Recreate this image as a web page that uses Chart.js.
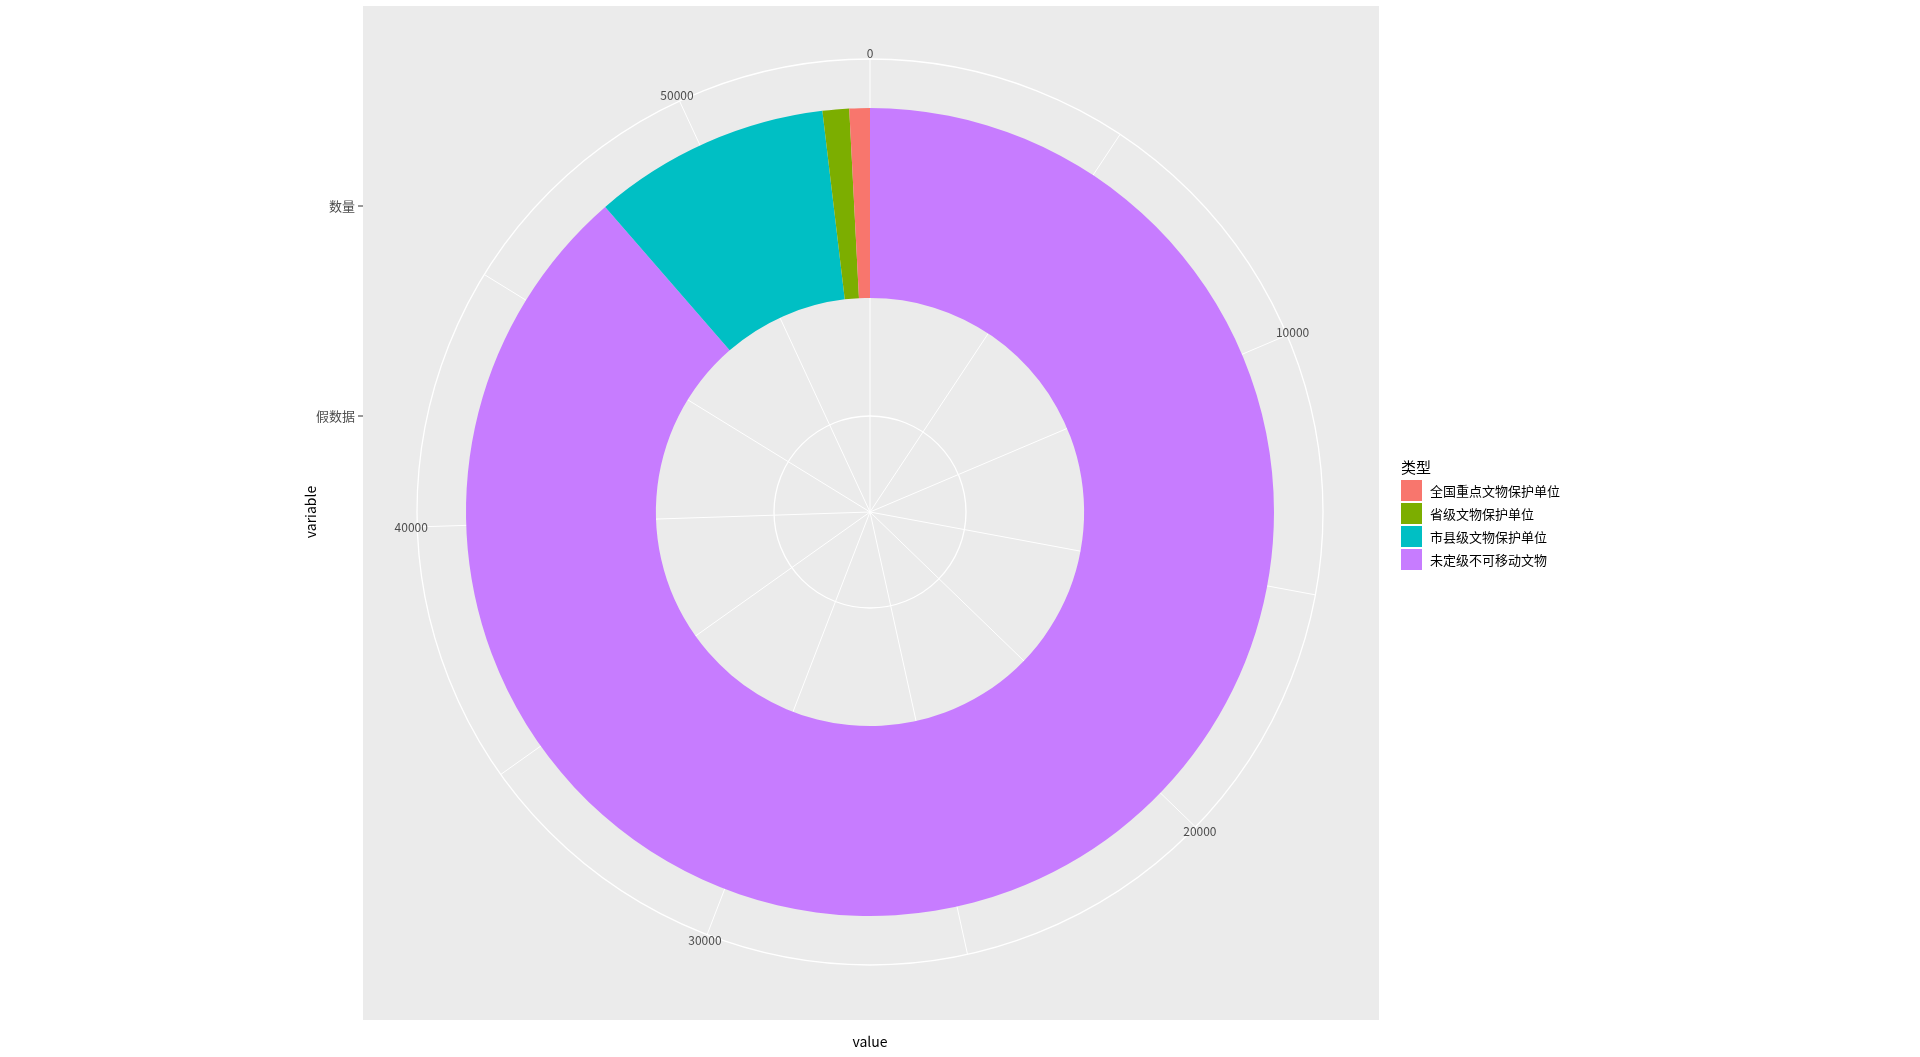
<!DOCTYPE html>
<html><head><meta charset="utf-8">
<script src="https://cdn.jsdelivr.net/npm/chart.js@4"></script>
<style>html,body{margin:0;padding:0;background:#fff}#c{display:block}</style>
</head><body>
<canvas id="c" width="1920" height="1057"></canvas>
<script>
const categories = ['全国重点文物保护单位','省级文物保护单位','市县级文物保护单位','未定级不可移动文物'];
const values = [440, 570, 5100, 47600];
const colors = ['#F8766D','#7CAE00','#00BFC4','#C77CFF'];
const thetaTicks = [0, 10000, 20000, 30000, 40000, 50000];
const thetaMinor = [5000, 15000, 25000, 35000, 45000];
const radialLabels = ['数量','假数据'];
const FONT = '"Noto Sans CJK SC", "DejaVu Sans", sans-serif';

const decor = {
  id: 'decor',
  beforeDraw(chart) {
    const ctx = chart.ctx;
    const meta = chart.getDatasetMeta(0);
    const arc = meta.data[0];
    const cx = arc.x, cy = arc.y, R = arc.outerRadius;
    const k = R / 404;
    const total = values.reduce((a, b) => a + b, 0);
    ctx.save();
    ctx.fillStyle = '#fff'; ctx.fillRect(0, 0, chart.width, chart.height);
    ctx.fillStyle = '#EBEBEB'; ctx.fillRect(363, 6, 1379 - 363, 1020 - 6);
    const Rg = 453 * k;
    ctx.strokeStyle = '#fff';
    ctx.lineWidth = 1.3;
    [96 * k, 306 * k, Rg].forEach(r => { ctx.beginPath(); ctx.arc(cx, cy, r, 0, Math.PI * 2); ctx.stroke(); });
    const ang = v => -Math.PI / 2 + v / total * Math.PI * 2;
    ctx.lineWidth = 1;
    thetaMinor.concat(thetaTicks).forEach(v => {
      const a = ang(v);
      ctx.beginPath(); ctx.moveTo(cx, cy); ctx.lineTo(cx + Rg * Math.cos(a), cy + Rg * Math.sin(a)); ctx.stroke();
    });
    ctx.fillStyle = '#4D4D4D';
    ctx.font = '12px ' + FONT;
    ctx.textAlign = 'center'; ctx.textBaseline = 'middle';
    thetaTicks.forEach(v => {
      const a = ang(v), r = Rg + 6;
      ctx.fillText(String(v), cx + r * Math.cos(a), cy + r * Math.sin(a));
    });
    // radial axis
    ctx.font = '13px ' + FONT;
    ctx.textAlign = 'right';
    ctx.strokeStyle = '#333'; ctx.lineWidth = 1;
    [306 * k, 96 * k].forEach((r, i) => {
      const y = cy - r;
      ctx.fillText(radialLabels[i], 355, y);
      ctx.beginPath(); ctx.moveTo(358, y); ctx.lineTo(363, y); ctx.stroke();
    });
    ctx.fillStyle = '#000';
    ctx.font = '14px ' + FONT;
    ctx.textAlign = 'center';
    ctx.fillText('value', cx, 1042);
    ctx.save(); ctx.translate(311, cy); ctx.rotate(-Math.PI / 2); ctx.fillText('variable', 0, 0); ctx.restore();
    // legend
    ctx.textAlign = 'left';
    ctx.font = '15px ' + FONT;
    ctx.fillText('类型', 1401, 467);
    ctx.font = '13px ' + FONT;
    categories.forEach((c, i) => {
      const y = 480 + i * 23;
      ctx.fillStyle = colors[i]; ctx.fillRect(1401, y, 21, 21);
      ctx.fillStyle = '#000'; ctx.fillText(c, 1430, y + 11);
    });
    ctx.restore();
  }
};

// ggplot stacks the first level last: draw in reverse order clockwise from 0
const order = [3, 2, 1, 0];
new Chart(document.getElementById('c'), {
  type: 'doughnut',
  data: { labels: order.map(i => categories[i]), datasets: [{ data: order.map(i => values[i]), backgroundColor: order.map(i => colors[i]), borderWidth: 0 }] },
  options: {
    responsive: false, animation: false,
    cutout: '53%',
    layout: { padding: { left: 466, top: 108, right: 646, bottom: 141 } },
    plugins: { legend: { display: false }, tooltip: { enabled: false } }
  },
  plugins: [decor]
});
</script>
</body></html>
